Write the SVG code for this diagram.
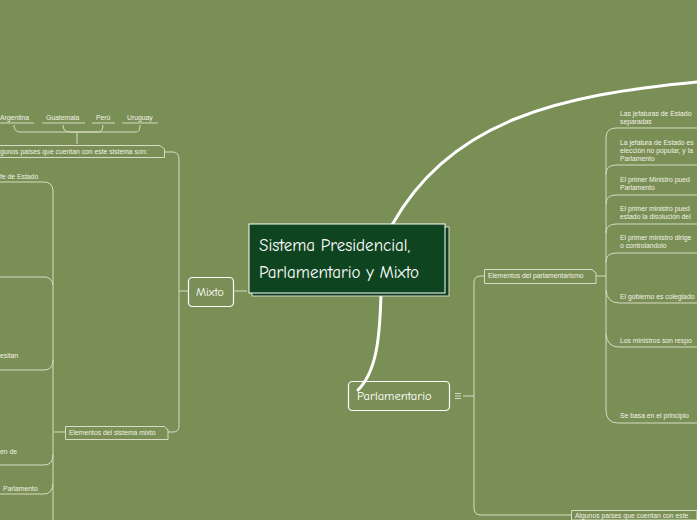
<svg xmlns="http://www.w3.org/2000/svg" width="697" height="520" viewBox="0 0 697 520">
<style>
.t{font-family:"Liberation Sans",Arial,sans-serif;font-size:6.8px;fill:#f2f2e6}
.c{fill:none;stroke:#d6dcc4;stroke-width:1}
.box{fill:none;stroke:#d6dcc4;stroke-width:1}
.main{fill:none;stroke:#ffffff;stroke-width:3;stroke-linecap:round}
.n{fill:none;stroke:#ffffff;stroke-width:1.2}
.h{font-family:"Comic Neue","Noto Sans",sans-serif;fill:#ffffff}
</style>
<rect width="697" height="520" fill="#7a8f55"/>
<g id="connectors">
<path class="main" d="M392,225 C450,120 560,95 697,82"/>
<path class="main" d="M381,292 C380,340 376,372 358,390"/>
<path class="c" d="M234,291 H247"/>
<path class="c" d="M188,291 H179 M179,160 V426 Q179,432 173,432 H168 M179,160 Q179,152 173,152 H165"/>
<path class="c" d="M463,396 H474 M474,282 V508 Q474,515 481,515 H571 M474,282 Q474,276 481,276 H484"/>
<path class="c" d="M596,276 H606" stroke-width="2"/>
<path class="c" d="M606,138 Q606,128 616,128 H697 M606,138 V410 Q606,423 618,423 H697 M606,174 Q606,165 616,165 H697 M606,204 Q606,195 616,195 H697 M606,233 Q606,224 616,224 H697 M606,262 Q606,253 616,253 H697 M606,290 Q607,303 619,303 H697 M606,334 Q607,347 619,347 H697"/>
<path class="c" d="M65,432 H54 M53,190 Q52,182 44,182 H0 M53,190 V520 M53,285 Q52,277 44,277 H0 M53,360 Q53,370 44,370 H0 M53,455 Q53,465 44,465 H0 M53,484 Q52,494 44,494 H0"/>
<path class="c" d="M0,123 H34 M42,123 H85 M92,123 H115 M122,123 H158 M14,125 Q14,132 20,132 H136 Q140,132 140,125 M63,125 Q63,132 70,132 H98 Q103,132 103,125 M77,132 V144"/>
</g>
<g id="center">
<rect x="252" y="227" width="197" height="69" fill="#0f3d1f" stroke="#d6dcc4"/>
<rect x="249" y="224" width="196" height="69" fill="#0f4420" stroke="#ffffff" stroke-width="1"/>
<text class="h" x="259" y="251" font-size="17">Sistema Presidencial,</text>
<text class="h" x="259" y="278" font-size="17">Parlamentario y Mixto</text>
</g>
<g id="mixto">
<rect x="188.5" y="277.5" width="45" height="29" rx="4" class="n"/>
<text class="h" x="196" y="296" font-size="12">Mixto</text>
</g>
<g id="parlamentario">
<rect x="348.5" y="381.5" width="101" height="29" rx="4" class="n"/>
<text class="h" x="357" y="400" font-size="12.5">Parlamentario</text>
<path class="c" d="M455,393.5 H461 M455,396 H461 M455,398.5 H461"/>
</g>
<g id="mixto-paises">
<path class="box" d="M0,145.5 H160 L164.5,149 V157.5 H0"/>
<text class="t" x="0" y="154">gunos países que cuentan con este sistema son:</text>
<text class="t" x="0" y="120">Argentina</text>
<text class="t" x="46" y="120">Guatemala</text>
<text class="t" x="96" y="120">Perú</text>
<text class="t" x="127" y="120">Uruguay</text>
</g>
<g id="mixto-elementos">
<path class="box" d="M65.5,426.5 H164 L168,430 V439.5 H65.5 Z"/>
<text class="t" x="69" y="435">Elementos del sistema mixto</text>
<text class="t" x="0" y="179">fe de Estado</text>
<text class="t" x="0" y="358">esitan</text>
<text class="t" x="0" y="454">en de</text>
<text class="t" x="3" y="491">Parlamento</text>
</g>
<g id="parl-elementos">
<path class="box" d="M484.5,269.5 H592 L596,273 V283.5 H484.5 Z"/>
<text class="t" x="488" y="278">Elementos del parlamentarismo</text>
<text class="t" x="620" y="116">Las jefaturas de Estado</text>
<text class="t" x="620" y="124">separadas</text>
<text class="t" x="620" y="145">La jefatura de Estado es</text>
<text class="t" x="620" y="153">elección no popular, y la</text>
<text class="t" x="620" y="161">Parlamento</text>
<text class="t" x="620" y="182">El primer Ministro pued</text>
<text class="t" x="620" y="190">Parlamento</text>
<text class="t" x="620" y="211">El primer ministro pued</text>
<text class="t" x="620" y="219">estado la disolución del</text>
<text class="t" x="620" y="240">El primer ministro dirige</text>
<text class="t" x="620" y="248">o controlandolo</text>
<text class="t" x="620" y="299">El gobierno es colegiado</text>
<text class="t" x="620" y="343">Los ministros son respo</text>
<text class="t" x="620" y="418">Se basa en el principio</text>
</g>
<g id="parl-paises">
<path class="box" d="M571.5,510.5 H697 V520 H571.5 Z"/>
<text class="t" x="575" y="518">Algunos países que cuentan con este</text>
</g>
</svg>
